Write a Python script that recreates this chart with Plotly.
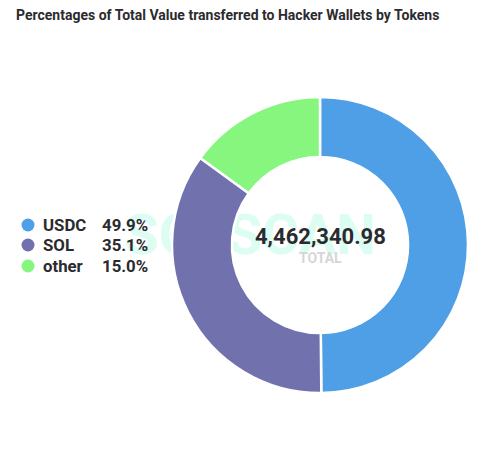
import plotly.graph_objects as go

tokens = ["USDC", "SOL", "other"]
shares = [49.86, 35.14, 15.0]
share_labels = ["49.9%", "35.1%", "15.0%"]
colors = ["#4e9fe5", "#7171ad", "#87f67f"]
total_label = "4,462,340.98"
title = "Percentages of Total Value transferred to Hacker Wallets by Tokens"

W = 493
H = 463
PAD = 8  # default body margin of the page
FONT = "Roboto"
INK = "#2b2b2f"

# figure is smaller than the window by the body margin, axes below run in window pixels
fig_w = W - 2 * PAD
fig_h = H - 2 * PAD

fig = go.Figure()

# watermark sits on the cartesian layer so the pie covers it
fig.add_trace(go.Scatter(x=[250], y=[240], mode="text", text=["SOLSCAN"],
                         textfont=dict(family=FONT, size=56, color="#dbfdf2", weight=700),
                         textposition="middle center", hoverinfo="skip", showlegend=False))
fig.add_trace(go.Scatter(x=[177], y=[234], mode="markers",
                         marker=dict(size=13, color="#eedcf5"),
                         hoverinfo="skip", showlegend=False))

# legend drawn by hand, plotly pie legends only give square swatches
legend_y = [225, 245, 266]
fig.add_trace(go.Scatter(x=[28, 28, 28], y=legend_y, mode="markers",
                         marker=dict(size=13, color=colors),
                         hoverinfo="skip", showlegend=False))

fig.add_trace(go.Pie(labels=tokens, values=shares, sort=False, direction="clockwise",
                     rotation=0, hole=0.595, textinfo="none",
                     marker=dict(colors=colors, line=dict(color="white", width=2.5)),
                     domain=dict(x=[(172 - PAD) / fig_w, (468 - PAD) / fig_w],
                                 y=[(H - PAD - 393) / fig_h, (H - PAD - 97) / fig_h]),
                     showlegend=False))

# annotations carry about 2px of padding, hence 41 and 150
for name, share, y in zip(tokens, share_labels, legend_y):
    fig.add_annotation(x=41, y=y, xref="x", yref="y", text="<b>%s</b>" % name, showarrow=False,
                       xanchor="left", font=dict(family=FONT, size=16.8, color=INK))
    fig.add_annotation(x=150, y=y, xref="x", yref="y", text="<b>%s</b>" % share, showarrow=False,
                       xanchor="right", font=dict(family=FONT, size=16.8, color=INK))

fig.add_annotation(x=320, y=236, xref="x", yref="y", text="<b>%s</b>" % total_label, showarrow=False,
                   font=dict(family=FONT, size=22, color=INK))
fig.add_annotation(x=320, y=258, xref="x", yref="y", text="<b>TOTAL</b>", showarrow=False,
                   font=dict(family=FONT, size=14, color="#d6d6d6"))
fig.add_annotation(x=14, y=15, xref="x", yref="y", text="<b>%s</b>" % title, showarrow=False,
                   xanchor="left", font=dict(family=FONT, size=14, color=INK))

fig.update_xaxes(range=[PAD, W - PAD], visible=False, domain=[0, 1])
fig.update_yaxes(range=[H - PAD, PAD], visible=False, domain=[0, 1])
fig.update_layout(width=fig_w, height=fig_h, margin=dict(l=0, r=0, t=0, b=0),
                  paper_bgcolor="white", plot_bgcolor="white")

fig.write_html("out.html")
